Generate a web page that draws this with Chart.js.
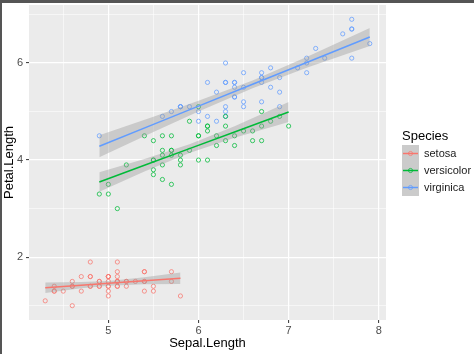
<!DOCTYPE html>
<html lang="en">
<head>
<meta charset="UTF-8" />
<title>Petal.Length vs Sepal.Length</title>
<script src="https://cdn.jsdelivr.net/npm/chart.js"></script>
<style>
  html, body { margin: 0; padding: 0; background: #fff; }
  canvas { display: block; }
</style>
</head>
<body>
<canvas id="irisChart" width="474" height="354"></canvas>
<script>
  // categories
  const species = ['setosa', 'versicolor', 'virginica'];
  const colors = ['#F8766D', '#00BA38', '#619CFF'];

  // points (Sepal.Length, Petal.Length)
  const setosaSepal = [5.1,4.9,4.7,4.6,5.0,5.4,4.6,5.0,4.4,4.9,5.4,4.8,4.8,4.3,5.8,5.7,5.4,5.1,5.7,5.1,5.4,5.1,4.6,5.1,4.8,5.0,5.0,5.2,5.2,4.7,4.8,5.4,5.2,5.5,4.9,5.0,5.5,4.9,4.4,5.1,5.0,4.5,4.4,5.0,5.1,4.8,5.1,4.6,5.3,5.0];
  const setosaPetal = [1.4,1.4,1.3,1.5,1.4,1.7,1.4,1.5,1.4,1.5,1.5,1.6,1.4,1.1,1.2,1.5,1.3,1.4,1.7,1.5,1.7,1.5,1.0,1.7,1.9,1.6,1.6,1.5,1.4,1.6,1.6,1.5,1.5,1.4,1.5,1.2,1.3,1.4,1.3,1.5,1.3,1.3,1.3,1.6,1.9,1.4,1.6,1.4,1.5,1.4];
  const versicolorSepal = [7.0,6.4,6.9,5.5,6.5,5.7,6.3,4.9,6.6,5.2,5.0,5.9,6.0,6.1,5.6,6.7,5.6,5.8,6.2,5.6,5.9,6.1,6.3,6.1,6.4,6.6,6.8,6.7,6.0,5.7,5.5,5.5,5.8,6.0,5.4,6.0,6.7,6.3,5.6,5.5,5.5,6.1,5.8,5.0,5.6,5.7,5.7,6.2,5.1,5.7];
  const versicolorPetal = [4.7,4.5,4.9,4.0,4.6,4.5,4.7,3.3,4.6,3.9,3.5,4.2,4.0,4.7,3.6,4.4,4.5,4.1,4.5,3.9,4.8,4.0,4.9,4.7,4.3,4.4,4.8,5.0,4.5,3.5,3.8,3.7,3.9,5.1,4.5,4.5,4.7,4.4,4.1,4.0,4.4,4.6,4.0,3.3,4.2,4.2,4.2,4.3,3.0,4.1];
  const virginicaSepal = [6.3,5.8,7.1,6.3,6.5,7.6,4.9,7.3,6.7,7.2,6.5,6.4,6.8,5.7,5.8,6.4,6.5,7.7,7.7,6.0,6.9,5.6,7.7,6.3,6.7,7.2,6.2,6.1,6.4,7.2,7.4,7.9,6.4,6.3,6.1,7.7,6.3,6.4,6.0,6.9,6.7,6.9,5.8,6.8,6.7,6.7,6.3,6.5,6.2,5.9];
  const virginicaPetal = [6.0,5.1,5.9,5.6,5.8,6.6,4.5,6.3,5.8,6.1,5.1,5.3,5.5,5.0,5.1,5.3,5.5,6.7,6.9,5.0,5.7,4.9,6.7,4.9,5.7,6.0,4.8,4.9,5.6,5.8,6.1,6.4,5.6,5.1,5.6,6.1,5.6,5.5,4.8,5.4,5.6,5.1,5.1,5.9,5.7,5.2,5.0,5.2,5.4,5.1];

  // smooth lines and bands
  const setosaFitX = [4.3, 4.7, 5.0, 5.4, 5.8];
  const setosaFit = [1.369, 1.422, 1.461, 1.514, 1.566];
  const setosaLow = [1.261, 1.358, 1.413, 1.441, 1.447];
  const setosaHigh = [1.478, 1.486, 1.509, 1.586, 1.686];
  const versicolorFitX = [4.9, 5.4, 5.9, 6.4, 7.0];
  const versicolorFit = [3.549, 3.892, 4.235, 4.579, 4.991];
  const versicolorLow = [3.349, 3.764, 4.146, 4.459, 4.786];
  const versicolorHigh = [3.749, 4.021, 4.324, 4.699, 5.196];
  const virginicaFitX = [4.9, 5.5, 6.0, 6.6, 7.2, 7.9];
  const virginicaFit = [4.286, 4.736, 5.111, 5.561, 6.011, 6.536];
  const virginicaLow = [4.058, 4.577, 5.002, 5.481, 5.900, 6.351];
  const virginicaHigh = [4.514, 4.895, 5.220, 5.641, 6.122, 6.720];

  // axes
  const xMajor = [5, 6, 7, 8];
  const xMinor = [4.5, 5.5, 6.5, 7.5];
  const yMajor = [2, 4, 6];
  const yMinor = [1, 3, 5, 7];

  const pts = (xs, ys) => xs.map((x, i) => ({ x: x, y: ys[i] }));

  const groups = [
    [setosaSepal, setosaPetal, setosaFitX, setosaFit, setosaLow, setosaHigh],
    [versicolorSepal, versicolorPetal, versicolorFitX, versicolorFit, versicolorLow, versicolorHigh],
    [virginicaSepal, virginicaPetal, virginicaFitX, virginicaFit, virginicaLow, virginicaHigh]
  ];

  const datasets = [];
  groups.forEach((g, i) => {
    datasets.push({
      type: 'scatter', label: species[i], data: pts(g[0], g[1]),
      pointStyle: 'circle', pointRadius: 2.1, pointBorderWidth: 0.75,
      borderColor: colors[i], backgroundColor: 'rgba(0,0,0,0)', order: 4
    });
    datasets.push({
      type: 'line', data: pts(g[2], g[4]), pointRadius: 0, borderWidth: 0,
      fill: false, order: 3
    });
    datasets.push({
      type: 'line', data: pts(g[2], g[5]), pointRadius: 0, borderWidth: 0,
      fill: '-1', backgroundColor: 'rgba(153,153,153,0.4)', order: 3
    });
    datasets.push({
      type: 'line', data: pts(g[2], g[3]), pointRadius: 0, borderWidth: 1.5,
      borderColor: colors[i], fill: false, order: 1
    });
  });

  const FONT = '"Liberation Sans", Arial, sans-serif';
  Chart.defaults.font.family = FONT;

  const panelBg = {
    id: 'panelBg',
    beforeDraw(chart) {
      const a = chart.chartArea, c = chart.ctx;
      c.save();
      c.fillStyle = '#EBEBEB';
      c.fillRect(a.left, a.top, a.right - a.left, a.bottom - a.top);
      c.restore();
    }
  };

  const legendBox = {
    id: 'legendBox',
    afterDraw(chart) {
      const c = chart.ctx;
      c.save();
      c.textBaseline = 'middle';
      c.fillStyle = '#000';
      c.font = '13px ' + FONT;
      c.fillText('Species', 402, 136);
      species.forEach((name, i) => {
        const y = 145 + i * 17;
        c.fillStyle = '#CBCBCB';
        c.fillRect(402, y, 17, 17);
        c.strokeStyle = colors[i];
        c.lineWidth = 1.5;
        c.beginPath();
        c.moveTo(403, y + 8.5);
        c.lineTo(418, y + 8.5);
        c.stroke();
        c.lineWidth = 0.75;
        c.beginPath();
        c.arc(410.5, y + 8.5, 2.1, 0, Math.PI * 2);
        c.stroke();
        c.fillStyle = '#1A1A1A';
        c.font = '11px ' + FONT;
        c.fillText(name, 424, y + 8.5);
      });
      // frame of the screenshot
      c.fillStyle = '#555';
      c.fillRect(0, 0, 474, 3);
      c.fillRect(0, 0, 2, 354);
      c.restore();
    }
  };

  const gridOpts = (majors) => ({
    color: '#FFFFFF',
    lineWidth: (ctx) => ctx.tick && majors.includes(ctx.tick.value) ? 1.2 : 0.55,
    tickColor: (ctx) => ctx.tick && majors.includes(ctx.tick.value) ? '#333333' : 'rgba(0,0,0,0)',
    tickLength: 3,
    tickWidth: 1,
    drawOnChartArea: true
  });

  new Chart(document.getElementById('irisChart'), {
    type: 'scatter',
    data: { datasets: datasets },
    options: {
      responsive: false,
      animation: false,
      events: [],
      layout: { padding: { top: 5, right: 88, left: 0, bottom: 0 } },
      plugins: { legend: { display: false }, tooltip: { enabled: false } },
      scales: {
        x: {
          type: 'linear', min: 4.12, max: 8.08,
          afterBuildTicks: (s) => { s.ticks = xMinor.concat(xMajor).sort((a, b) => a - b).map(v => ({ value: v })); },
          afterFit: (s) => { s.height = 34; s.paddingLeft = 0; s.paddingRight = 0; },
          grid: gridOpts(xMajor),
          border: { display: false },
          ticks: {
            autoSkip: false, maxRotation: 0, padding: 1,
            color: '#4D4D4D', font: { size: 11 },
            callback: (v) => xMajor.includes(v) ? String(v) : ''
          },
          title: { display: true, text: 'Sepal.Length', color: '#000', font: { size: 13 }, padding: { top: 0, bottom: 3 } }
        },
        y: {
          type: 'linear', min: 0.705, max: 7.195,
          afterBuildTicks: (s) => { s.ticks = yMinor.concat(yMajor).sort((a, b) => a - b).map(v => ({ value: v })); },
          afterFit: (s) => { s.width = 29; s.paddingTop = 0; s.paddingBottom = 0; },
          grid: gridOpts(yMajor),
          border: { display: false },
          ticks: {
            autoSkip: false, padding: 3,
            color: '#4D4D4D', font: { size: 11 },
            callback: (v) => yMajor.includes(v) ? String(v) : ''
          },
          title: { display: true, text: 'Petal.Length', color: '#000', font: { size: 13 }, padding: { top: 2, bottom: 0 } }
        }
      }
    },
    plugins: [panelBg, legendBox]
  });
</script>
</body>
</html>
